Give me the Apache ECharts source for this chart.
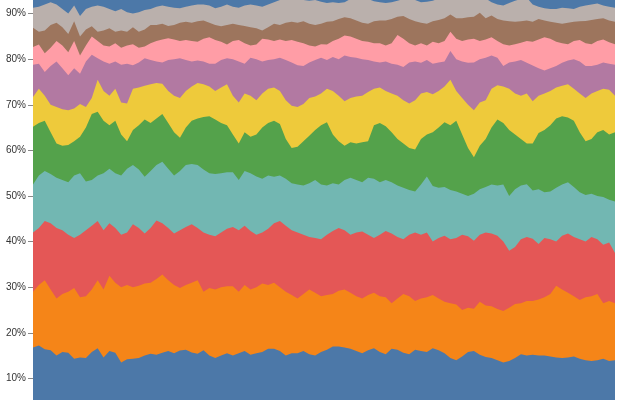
<!DOCTYPE html>
<html>
<head>
<meta charset="utf-8">
<script src="https://cdn.jsdelivr.net/npm/echarts@6/dist/echarts.min.js"></script>
<style>
html,body{margin:0;padding:0;background:#fff;width:640px;height:400px;overflow:hidden;position:relative;}
#chart{position:absolute;left:0;top:-32.5px;width:640px;height:455.5px;}
</style>
</head>
<body>
<div id="chart"></div>
<script>
// x categories (sample index)
const categories = [1,2,3,4,5,6,7,8,9,10,11,12,13,14,15,16,17,18,19,20,21,22,23,24,25,26,27,28,29,30,31,32,33,34,35,36,37,38,39,40,41,42,43,44,45,46,47,48,49,50,51,52,53,54,55,56,57,58,59,60,61,62,63,64,65,66,67,68,69,70,71,72,73,74,75,76,77,78,79,80,81,82,83,84,85,86,87,88,89,90,91,92,93,94,95,96,97,98,99,100];

// cumulative share (%) at the top edge of each band
const blueTop = [16.8,17.2,16.4,16.2,15.0,15.8,15.6,14.3,14.6,14.5,15.8,16.6,14.6,16.0,15.6,13.5,14.2,
  14.3,14.5,15.0,15.4,15.2,15.6,16.0,15.5,16.1,16.3,15.7,15.4,16.2,15.0,14.5,15.0,15.5,
  15.0,15.5,16.0,15.2,15.5,15.8,16.5,16.5,16.0,15.0,15.5,15.5,16.0,15.3,15.0,15.8,16.3,
  17.0,17.0,16.8,16.5,16.0,15.5,16.2,16.6,15.8,15.3,16.5,16.3,15.6,15.3,16.3,16.0,15.8,
  16.6,16.2,15.5,14.5,14.0,14.8,15.8,16.0,15.2,14.7,14.5,14.0,13.5,13.8,14.5,15.3,15.0,
  15.2,15.0,15.0,14.8,14.6,14.5,14.6,14.8,14.3,14.0,13.8,14.0,14.3,13.8,14.0];
const orangeTop = [29.0,30.5,31.5,29.5,27.5,28.5,29.0,29.8,27.8,28.0,29.5,31.5,29.5,32.5,31.0,30.0,30.5,
  30.0,30.3,30.8,31.0,31.8,32.8,31.5,30.5,29.8,30.5,31.0,31.5,29.0,29.8,29.5,30.0,30.2,
  30.2,29.0,30.5,29.5,30.0,30.8,30.5,31.0,30.0,29.0,28.3,27.5,28.5,29.5,28.8,28.0,28.3,
  28.5,29.2,29.5,28.8,28.0,27.5,28.3,28.8,28.0,27.8,26.5,27.5,28.5,28.0,27.0,27.5,27.8,
  28.3,27.5,26.8,26.5,26.2,25.0,25.5,25.3,26.8,26.0,25.8,25.2,24.8,25.5,26.3,26.5,27.0,
  27.0,27.3,27.8,28.5,30.3,29.5,28.8,28.0,27.2,27.8,28.0,28.5,26.5,27.0,26.5];
const redTop = [42.0,43.0,44.5,44.0,43.0,42.5,41.5,40.8,41.5,42.5,43.5,44.5,42.5,44.0,43.0,41.5,42.0,
  43.8,43.0,41.8,43.0,44.6,44.0,43.0,41.8,42.5,43.2,43.8,43.0,42.0,41.5,41.2,42.0,42.8,
  43.2,42.5,43.5,42.3,41.5,42.0,42.8,44.0,44.5,43.5,42.5,42.0,41.5,41.0,40.8,40.5,41.5,
  42.3,43.0,42.5,41.5,42.0,42.2,41.5,40.8,41.5,42.3,41.8,41.0,40.5,41.5,42.0,41.5,42.0,
  40.0,40.8,41.3,40.5,40.8,41.5,41.2,40.2,41.5,42.0,41.8,41.3,40.0,38.0,38.8,40.5,41.0,
  40.6,39.5,40.8,40.5,40.0,41.3,41.8,41.0,40.5,40.0,41.0,40.5,39.3,39.8,37.5];
const tealTop = [52.5,54.5,55.5,54.8,54.0,53.5,53.0,54.5,55.0,53.2,53.5,54.5,55.0,56.0,55.0,54.5,56.0,
  56.8,55.8,54.2,55.5,56.8,57.5,56.0,54.5,55.5,56.8,57.0,56.8,55.8,55.0,54.8,55.0,55.2,
  55.2,53.5,55.5,55.0,54.3,53.8,54.5,54.2,54.5,53.8,52.8,52.5,52.3,52.8,53.5,52.5,52.3,
  52.8,52.5,53.5,54.0,53.5,53.0,54.0,53.8,53.0,53.5,53.0,52.3,51.8,51.3,51.0,52.5,54.3,
  52.2,51.8,52.0,51.3,51.0,50.5,50.0,50.5,51.5,52.0,52.5,52.3,52.5,50.0,51.5,52.3,52.6,
  51.2,51.5,50.8,51.0,51.8,52.5,53.0,52.0,50.8,50.2,50.5,50.0,49.8,49.2,48.8];
const greenTop = [65.2,66.0,66.5,64.0,61.5,61.0,61.2,62.0,63.0,65.0,68.0,68.5,66.5,65.5,66.5,63.5,62.0,
  64.5,65.5,66.8,66.0,67.0,68.0,66.0,64.0,62.8,65.0,66.5,67.0,67.3,67.5,66.8,66.0,65.5,
  63.5,61.5,64.0,63.0,63.5,65.0,66.0,66.5,65.8,62.5,60.5,60.8,62.0,63.2,64.5,65.5,66.2,
  63.5,62.0,61.0,61.8,61.5,61.8,62.0,65.5,66.0,65.3,64.0,62.5,61.5,60.5,60.2,62.5,63.5,
  64.0,65.0,66.2,65.5,66.5,63.5,60.5,58.5,61.0,62.5,65.0,66.8,66.0,64.5,63.5,62.5,61.5,
  61.5,63.8,64.5,65.5,67.0,67.5,67.2,66.5,64.0,62.0,62.5,64.0,64.5,63.5,64.0];
const yellowTop = [71.7,73.5,72.0,70.0,69.5,69.0,68.8,69.2,70.2,69.5,71.5,75.5,73.0,72.0,73.5,70.5,70.3,
  73.5,73.8,74.2,74.5,74.8,74.6,73.0,72.0,71.5,73.0,74.0,74.8,74.5,74.0,73.0,73.8,74.5,
  72.0,70.5,72.5,72.0,71.0,72.5,73.5,73.8,73.0,71.0,69.8,69.5,70.2,71.5,71.8,72.5,73.5,
  73.0,72.0,70.8,71.5,71.8,72.0,72.8,73.5,73.8,73.0,72.5,72.0,71.0,70.3,71.0,72.5,72.8,
  72.3,73.0,74.0,75.5,73.0,71.5,70.0,68.8,70.5,71.0,73.5,74.3,74.0,73.5,72.5,72.0,72.5,
  70.8,72.0,72.5,73.0,73.8,74.2,74.5,73.5,72.5,71.5,72.5,73.0,73.5,73.3,72.0];
const purpleTop = [78.8,79.0,77.2,78.5,79.5,78.0,76.5,78.0,76.8,79.5,81.0,80.2,79.5,79.0,79.5,78.8,79.0,
  78.7,79.3,80.2,79.8,79.5,79.3,79.8,80.0,80.2,79.8,79.5,79.7,79.5,79.0,79.0,79.8,80.2,
  80.0,79.5,79.0,80.3,80.0,79.5,79.8,80.0,80.3,79.8,79.3,78.7,78.5,79.3,79.8,80.3,79.8,
  80.5,80.0,80.8,80.5,80.3,80.0,79.8,79.5,79.3,79.5,79.0,78.8,78.3,79.3,79.5,79.2,79.8,
  79.0,79.3,79.5,81.8,80.0,79.5,79.2,79.3,80.0,80.3,80.8,80.3,78.5,79.3,79.5,79.8,79.2,
  78.6,78.0,77.5,78.0,78.5,79.2,79.7,80.0,79.5,78.5,78.5,78.8,79.3,79.0,78.8];
const pinkTop = [82.7,83.2,81.3,82.5,84.0,83.0,81.5,84.0,80.8,83.0,85.0,84.0,83.0,82.8,83.5,82.5,83.0,
  83.3,82.5,82.8,83.5,84.0,84.3,84.6,84.3,84.0,84.2,84.0,83.8,84.5,84.8,84.2,83.8,83.2,
  84.0,84.2,83.5,83.0,83.2,84.5,84.3,84.0,84.3,84.0,84.2,83.8,83.5,83.0,82.8,83.3,83.2,
  84.0,84.5,85.2,85.0,84.5,84.0,83.8,83.5,83.5,83.0,83.5,85.3,84.5,83.5,83.0,83.5,83.0,
  83.8,83.5,84.0,86.0,84.5,84.0,84.3,84.5,84.0,84.3,84.8,84.0,83.3,83.0,83.3,83.6,84.0,
  83.8,84.3,84.8,84.5,83.8,83.5,83.3,84.0,84.2,83.5,83.3,84.0,84.3,83.7,83.3];
const brownTop = [86.9,86.0,86.3,87.5,88.0,87.0,85.5,88.3,85.0,86.5,87.2,86.0,86.3,86.8,86.0,86.3,86.0,
  87.0,86.0,86.5,87.5,87.5,87.8,87.3,87.5,88.0,88.2,88.0,88.3,88.5,88.0,87.5,87.2,87.5,
  87.8,87.5,87.3,87.0,86.8,86.3,87.0,87.8,87.5,88.0,88.2,88.0,88.3,87.8,87.5,87.8,88.2,
  88.3,88.8,89.2,89.0,88.5,88.0,87.8,88.3,88.5,88.5,88.8,89.3,89.5,88.8,88.3,88.0,87.8,
  88.3,88.6,89.0,89.8,89.0,89.0,89.2,89.3,90.2,89.0,89.6,88.8,88.5,88.3,88.2,88.3,88.5,
  88.2,88.8,88.5,88.2,88.0,87.8,88.0,88.2,88.3,88.4,88.6,88.8,89.0,88.5,88.2];
const grayTop = [91.3,91.5,92.0,92.5,92.0,91.0,90.0,91.8,89.5,91.0,91.5,91.8,91.5,91.0,90.5,91.0,90.3,
  90.0,90.3,90.8,91.0,91.5,91.8,91.5,91.3,91.2,91.5,91.8,92.0,92.0,91.8,91.2,91.5,92.0,
  91.5,91.3,91.8,92.0,91.8,91.5,92.0,92.5,93.0,93.2,93.0,93.2,93.0,92.8,93.0,92.6,92.3,
  92.5,92.3,92.5,93.2,93.3,93.0,93.2,92.7,92.5,92.3,92.5,92.8,93.2,93.3,93.0,92.5,92.6,
  92.8,93.3,93.5,93.5,93.3,93.2,93.3,93.0,93.2,93.3,92.5,92.0,91.8,92.3,92.8,93.2,93.5,
  92.0,91.5,91.2,91.0,91.0,91.3,91.2,91.0,91.5,91.8,92.0,92.2,91.8,91.5,91.3];

const yTicks = [10,20,30,40,50,60,70,80,90];

// bands drawn from the top band down, each filled from the bottom
const bands = [
  {name: 'series 10', data: grayTop,   color: '#bab0ac'},
  {name: 'series 9',  data: brownTop,  color: '#9d755d'},
  {name: 'series 8',  data: pinkTop,   color: '#ff9da6'},
  {name: 'series 7',  data: purpleTop, color: '#b279a2'},
  {name: 'series 6',  data: yellowTop, color: '#eeca3b'},
  {name: 'series 5',  data: greenTop,  color: '#54a24b'},
  {name: 'series 4',  data: tealTop,   color: '#72b7b2'},
  {name: 'series 3',  data: redTop,    color: '#e45756'},
  {name: 'series 2',  data: orangeTop, color: '#f58518'},
  {name: 'series 1',  data: blueTop,   color: '#4c78a8'}
];

const chart = echarts.init(document.getElementById('chart'), null, {renderer: 'canvas'});
chart.setOption({
  animation: false,
  backgroundColor: '#ffffff',
  grid: {left: 33, right: 25, top: 0, bottom: 0, show: true, backgroundColor: '#4c78a8', borderWidth: 0},
  xAxis: {
    type: 'category', data: categories, boundaryGap: false,
    axisLine: {show: false}, axisTick: {show: false}, axisLabel: {show: false}, splitLine: {show: false}
  },
  yAxis: {
    type: 'value', min: 0, max: 100, interval: 10,
    axisLine: {show: false},
    axisTick: {show: true, length: 5, lineStyle: {color: '#888'}},
    splitLine: {show: false},
    axisLabel: {
      margin: 7, fontSize: 10, color: '#333', fontFamily: 'Liberation Sans, Arial, sans-serif',
      formatter: v => yTicks.indexOf(v) >= 0 ? v + '%' : ''
    }
  },
  series: bands.map((b, i) => ({
    name: b.name, type: 'line', data: b.data, z: 2 + i,
    showSymbol: false, symbol: 'none', smooth: false,
    lineStyle: {width: 0, color: b.color},
    itemStyle: {color: b.color},
    areaStyle: {color: b.color, opacity: 1, origin: 'start'}
  }))
});
</script>
</body>
</html>
